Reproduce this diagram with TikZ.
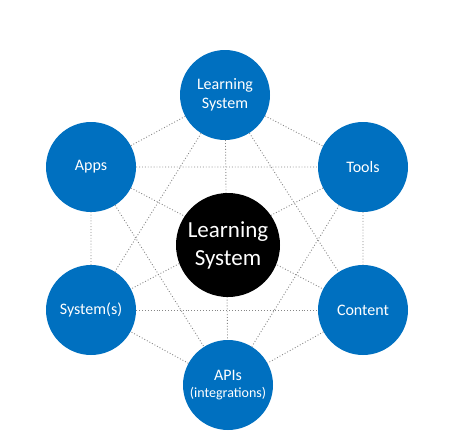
\documentclass[tikz,border=0pt]{standalone}
\usepackage{fontspec}
\setmainfont{Carlito}
\usepackage{xcolor}
\usepackage{tikz}
\usetikzlibrary{positioning}
\definecolor{hubblue}{RGB}{0,112,192}
\tikzset{
  outer/.style={circle,fill=hubblue,minimum size=90pt,inner sep=1pt,text=white,align=center,font=\fontsize{16}{19}\selectfont},
  hubv/.style={circle,fill=black,minimum size=104pt,inner sep=1pt,text=white,align=center,font=\fontsize{23}{28}\selectfont},
  link/.style={line width=.9pt,dotted,gray!95}
}
\begin{document}
\begin{tikzpicture}[x=1pt,y=-1pt]
  \useasboundingbox (0,0) rectangle (450,439);
  % ring of nodes
  \node[outer] (learn) at (225,95) {Learning\\System};
  \node[outer] (tools) at (363,167) {Tools};
  \node[outer] (content) at (363,310) {Content};
  \node[outer] (apis) at (228,385) {APIs\\[-2pt]{\fontsize{14}{16}\selectfont(integrations)}};
  \node[outer] (sys) at (91,310) {System(s)};
  \node[outer] (apps) at (91,167) {Apps};
  % dotted mesh
  \draw[link] (learn)--(tools)--(content)--(apis)--(sys)--(apps)--(learn);
  \draw[link] (learn)--(content) (learn)--(sys) (learn)--(apis);
  \draw[link] (apps)--(tools) (apps)--(apis) (apps)--(content);
  \draw[link] (tools)--(apis) (tools)--(sys);
  \draw[link] (sys)--(content);
  % centre
  \node[hubv] (hub) at (228,245) {Learning\\System};
\end{tikzpicture}
\end{document}
